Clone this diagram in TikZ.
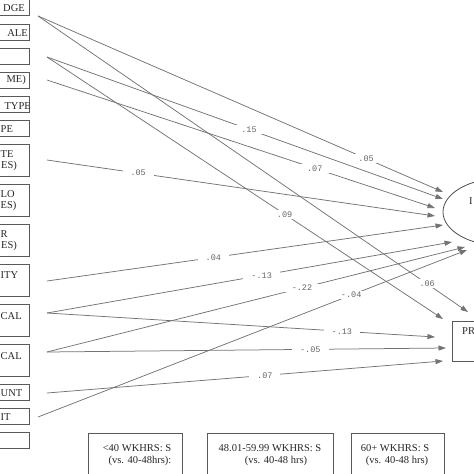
\documentclass[tikz,border=0pt]{standalone}
\usepackage{fontspec}
\setmainfont{Liberation Serif}
\newfontfamily\monofam{Liberation Mono}
\usetikzlibrary{arrows.meta,shapes.geometric}
\begin{document}
\begin{tikzpicture}[x=1pt,y=-1pt,
  boxln/.style={draw=black!65, line width=0.8pt},
  lbox/.style={boxln, rectangle, inner sep=0pt, anchor=north east, minimum width=90pt},
  bbox/.style={boxln, rectangle, inner sep=0pt, anchor=north west, minimum height=60pt},
  btxt/.style={font=\fontsize{10.5}{12}\selectfont, text=black!85, inner sep=0pt},
  pathln/.style={draw=black!55, line width=0.75pt, -{Triangle[length=7.5pt,width=5pt]}},
  coef/.style={font=\monofam\fontsize{8.5}{10}\selectfont, text=black!60, fill=white, inner xsep=8pt, inner ysep=1.5pt}
]
\useasboundingbox (0,0) rectangle (474,474);
\clip (0,0) rectangle (474,474);

% left boxes
\node[lbox, minimum height=17pt] (b1) at (30,-2) {};
\node[lbox, minimum height=16pt] (b2) at (30,24) {};
\node[lbox, minimum height=16pt] (b3) at (30,48) {};
\node[lbox, minimum height=16pt] (b4) at (30,72) {};
\node[lbox, minimum height=16pt] (b5) at (30,96) {};
\node[lbox, minimum height=16pt] (b6) at (30,120) {};
\node[lbox, minimum height=32pt] (b7) at (30,144) {};
\node[lbox, minimum height=32pt] (b8) at (30,184) {};
\node[lbox, minimum height=32pt] (b9) at (30,224) {};
\node[lbox, minimum height=32pt] (b10) at (30,264) {};
\node[lbox, minimum height=32pt] (b11) at (30,304) {};
\node[lbox, minimum height=32pt] (b12) at (30,344) {};
\node[lbox, minimum height=16pt] (b13) at (30,384) {};
\node[lbox, minimum height=16pt] (b14) at (30,408) {};
\node[lbox, minimum height=16pt] (b15) at (30,432) {};

% left box texts (visible fragments)
\node[btxt, anchor=east] (t1) at (25,8) {DGE};
\node[btxt, anchor=east] (t2) at (28,33) {ALE};
\node[btxt, anchor=east] (t4) at (26,80) {ME)};
\node[btxt, anchor=east] (t5) at (31,106) {TYPE};
\node[btxt, anchor=west] (t6) at (0.5,129) {PE};
\node[btxt, anchor=west] (t7a) at (0.5,154) {TE};
\node[btxt, anchor=west] (t7b) at (1,166) {ES)};
\node[btxt, anchor=west] (t8a) at (0.5,194) {LO};
\node[btxt, anchor=west] (t8b) at (0.5,206) {ES)};
\node[btxt, anchor=west] (t9a) at (0.5,234) {R};
\node[btxt, anchor=west] (t9b) at (1,246) {ES)};
\node[btxt, anchor=west] (t10) at (0.5,275) {ITY};
\node[btxt, anchor=west] (t11) at (0.5,316) {CAL};
\node[btxt, anchor=west] (t12) at (0.5,356) {CAL};
\node[btxt, anchor=west] (t13) at (0.5,393) {UNT};
\node[btxt, anchor=west] (t14) at (0.5,417) {IT};

% right targets
\node[draw=black!70, line width=0.8pt, ellipse, minimum width=120pt, minimum height=68pt, inner sep=0pt] (lat) at (503,212) {};
\node[btxt, anchor=west] (latt) at (469,201) {I};
\node[boxln, anchor=north west, minimum width=80pt, minimum height=40pt, inner sep=0pt] (pr) at (452,321) {};
\node[btxt, anchor=west] (prt) at (462,331) {PR};

% bottom boxes
\node[bbox, minimum width=94pt] (wa) at (88,433) {};
\node[bbox, minimum width=126pt] (wb) at (207,433) {};
\node[bbox, minimum width=93pt] (wc) at (351,433) {};
\node[btxt] (wa1) at (137,448) {<40 WKHRS: S};
\node[btxt] (wa2) at (140,461) {(vs. 40-48hrs):};
\node[btxt] (wb1) at (270,448) {48.01-59.99 WKHRS: S};
\node[btxt] (wb2) at (276,461) {(vs. 40-48 hrs)};
\node[btxt] (wc1) at (395,448) {60+ WKHRS: S};
\node[btxt] (wc2) at (397,461) {(vs. 40-48 hrs)};

% start points
\coordinate (s1) at (38,16);
\coordinate (s3) at (47,57);
\coordinate (s4) at (47,80);
\coordinate (s7) at (47,160);
\coordinate (s10) at (47,281);
\coordinate (s11) at (47,313);
\coordinate (s12) at (47,352);
\coordinate (s13) at (47,393);
\coordinate (s14) at (38,417);

% arrow tips
\coordinate (e1) at (443,192);
\coordinate (e2) at (443,199);
\coordinate (e3) at (435,208);
\coordinate (e4) at (435,216);
\coordinate (e5) at (443,225);
\coordinate (e6) at (452,242);
\coordinate (e7) at (465,247);
\coordinate (e8) at (467,250);
\coordinate (p1) at (443,319);
\coordinate (p2) at (468,312);
\coordinate (p3) at (435,337);
\coordinate (p4) at (446,348);
\coordinate (p5) at (443,361);

% paths
\draw[pathln] (s1) -- node[coef, pos=0.81] {.05} (e1);
\draw[pathln] (s1) -- node[coef, pos=0.905] {.06} (p2);
\draw[pathln] (s3) -- node[coef, pos=0.51] {.15} (e2);
\draw[pathln] (s3) -- node[coef, pos=0.60] {.09} (p1);
\draw[pathln] (s4) -- node[coef, pos=0.69] {.07} (e3);
\draw[pathln] (s7) -- node[coef, pos=0.235] {.05} (e4);
\draw[pathln] (s10) -- node[coef, pos=0.42] {.04} (e5);
\draw[pathln] (s11) -- node[coef, pos=0.53] {-.13} (e6);
\draw[pathln] (s11) -- node[coef, pos=0.76] {-.13} (p3);
\draw[pathln] (s12) -- node[coef, pos=0.61] {-.22} (e7);
\draw[pathln] (s12) -- node[coef, pos=0.66] {-.05} (p4);
\draw[pathln] (s13) -- node[coef, pos=0.55] {.07} (p5);
\draw[pathln] (s14) -- node[coef, pos=0.73] {-.04} (e8);
\end{tikzpicture}
\end{document}
